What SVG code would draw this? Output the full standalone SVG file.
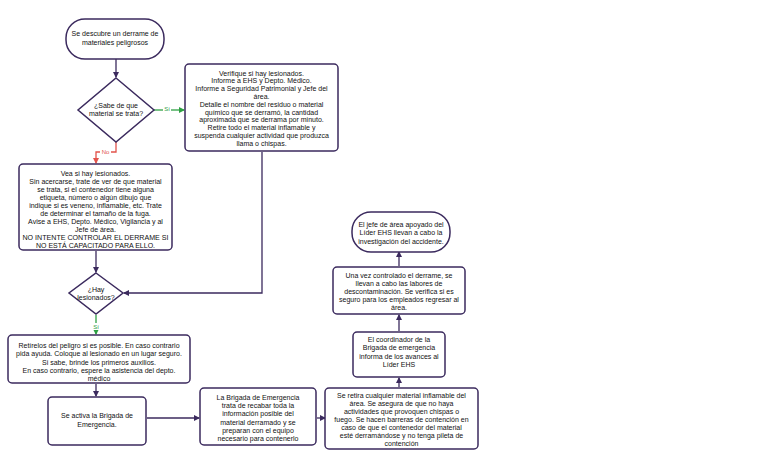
<svg xmlns="http://www.w3.org/2000/svg" width="768" height="452" viewBox="0 0 768 452">
<defs>
<style>
.n{fill:#fff;stroke:#3b2a5e;stroke-width:1.5}
.t{font-family:"Liberation Sans",Arial,sans-serif;font-size:7px;fill:#111;text-anchor:middle}
.c{fill:none;stroke:#3b2a5e;stroke-width:1.3}
.g{fill:none;stroke:#2ea043;stroke-width:1.3}
.r{fill:none;stroke:#e2534b;stroke-width:1.3}
.l{font-family:"Liberation Sans",Arial,sans-serif;font-size:6px;text-anchor:middle}
</style>
<marker id="a" markerWidth="6" markerHeight="6" refX="5" refY="3" orient="auto" markerUnits="userSpaceOnUse"><path d="M0,0 L6,3 L0,6 Z" fill="#3b2a5e"/></marker>
<marker id="ag" markerWidth="6" markerHeight="6" refX="5" refY="3" orient="auto" markerUnits="userSpaceOnUse"><path d="M0,0 L6,3 L0,6 Z" fill="#2ea043"/></marker>
<marker id="ar" markerWidth="6" markerHeight="6" refX="5" refY="3" orient="auto" markerUnits="userSpaceOnUse"><path d="M0,0 L6,3 L0,6 Z" fill="#e2534b"/></marker>
</defs>
<rect width="768" height="452" fill="#fff"/>
<g id="connectors">
<path class="c" d="M116,59 V77" marker-end="url(#a)"/>
<path class="g" d="M154,110 H184" marker-end="url(#ag)"/>
<rect x="163" y="106" width="8" height="7" fill="#fff"/>
<text class="l" x="167" y="111" fill="#2ea043">Sí</text>
<path class="r" d="M116,142 V152 H96 V163" marker-end="url(#ar)"/>
<rect x="100" y="148" width="11" height="7" fill="#fff"/>
<text class="l" x="105.5" y="154" fill="#e2534b">No</text>
<path class="c" d="M96,251 V272" marker-end="url(#a)"/>
<path class="c" d="M262,152 V293 H124" marker-end="url(#a)"/>
<path class="g" d="M96,315 V334" marker-end="url(#ag)"/>
<rect x="92" y="323" width="8" height="7" fill="#fff"/>
<text class="l" x="96" y="329" fill="#2ea043">Sí</text>
<path class="c" d="M96,384 V396" marker-end="url(#a)"/>
<path class="c" d="M147,418 H199" marker-end="url(#a)"/>
<path class="c" d="M317,418 H325" marker-end="url(#a)"/>
<path class="c" d="M399,387 V378" marker-end="url(#a)"/>
<path class="c" d="M399,331 V315" marker-end="url(#a)"/>
<path class="c" d="M399,266 V252" marker-end="url(#a)"/>
</g>
<g id="start">
<rect class="n" x="66" y="19" width="98" height="40" rx="19"/>
<text class="t" x="115" y="36">Se descubre un derrame de</text>
<text class="t" x="115" y="45">materiales peligrosos</text>
</g>
<g id="d1">
<path class="n" d="M116,78 L154,110 L116,142 L78,110 Z"/>
<text class="t" x="116" y="108">¿Sabe de que</text>
<text class="t" x="116" y="116">material se trata?</text>
</g>
<g id="verifique">
<rect class="n" x="185" y="64" width="153" height="87" rx="4"/>
<text class="t" x="261.5" y="75.5">Verifique si hay lesionados.</text>
<text class="t" x="261.5" y="83.3">Informe a EHS y Depto. Médico.</text>
<text class="t" x="261.5" y="91.1">Informe a Seguridad Patrimonial y Jefe del</text>
<text class="t" x="261.5" y="98.9">área.</text>
<text class="t" x="261.5" y="106.7">Detalle el nombre del residuo o material</text>
<text class="t" x="261.5" y="114.5">químico que se derramó, la cantidad</text>
<text class="t" x="261.5" y="122.3">aproximada que se derrama por minuto.</text>
<text class="t" x="261.5" y="130.1">Retire todo el material inflamable y</text>
<text class="t" x="261.5" y="137.9">suspenda cualquier actividad que produzca</text>
<text class="t" x="261.5" y="145.7">llama o chispas.</text>
</g>
<g id="vea">
<rect class="n" x="19" y="164" width="153" height="86" rx="4"/>
<text class="t" x="95.5" y="175.5">Vea si hay lesionados.</text>
<text class="t" x="95.5" y="183.5">Sin acercarse, trate de ver de que material</text>
<text class="t" x="95.5" y="191.5">se trata, si el contenedor tiene alguna</text>
<text class="t" x="95.5" y="199.5">etiqueta, número o algún dibujo que</text>
<text class="t" x="95.5" y="207.5">indique si es veneno, inflamable, etc. Trate</text>
<text class="t" x="95.5" y="215.5">de determinar el tamaño de la fuga.</text>
<text class="t" x="95.5" y="223.5">Avise a EHS, Depto. Médico, Vigilancia y al</text>
<text class="t" x="95.5" y="231.5">Jefe de área.</text>
<text class="t" x="95.5" y="239.5" textLength="146" lengthAdjust="spacingAndGlyphs">NO INTENTE CONTROLAR EL DERRAME SI</text>
<text class="t" x="95.5" y="247.5">NO ESTÁ CAPACITADO PARA ELLO.</text>
</g>
<g id="d2">
<path class="n" d="M96,273 L123,293 L96,314 L69,293 Z"/>
<text class="t" x="96" y="292">¿Hay</text>
<text class="t" x="96" y="300">lesionados?</text>
</g>
<g id="retirelos">
<rect class="n" x="8" y="335" width="182" height="48" rx="4"/>
<text class="t" x="99" y="347.5">Retírelos del peligro si es posible. En caso contrario</text>
<text class="t" x="99" y="356">pida ayuda.  Coloque al lesionado en un lugar seguro.</text>
<text class="t" x="99" y="364.5">Si sabe, brinde los primeros auxilios.</text>
<text class="t" x="99" y="373">En caso contrario, espere la asistencia del depto.</text>
<text class="t" x="99" y="381">médico</text>
</g>
<g id="activa">
<rect class="n" x="48" y="397" width="98" height="48" rx="4"/>
<text class="t" x="97" y="418">Se activa la Brigada de</text>
<text class="t" x="97" y="426.5">Emergencia.</text>
</g>
<g id="brigada">
<rect class="n" x="200" y="388" width="116" height="57" rx="4"/>
<text class="t" x="258" y="400">La Brigada de Emergencia</text>
<text class="t" x="258" y="408.2">trata de recabar toda la</text>
<text class="t" x="258" y="416.4">información posible del</text>
<text class="t" x="258" y="424.6">material derramado y se</text>
<text class="t" x="258" y="432.8">preparan con el equipo</text>
<text class="t" x="258" y="441">necesario para contenerlo</text>
</g>
<g id="retira">
<rect class="n" x="325" y="388" width="153" height="61" rx="4"/>
<text class="t" x="401.5" y="398">Se retira cualquier material inflamable del</text>
<text class="t" x="401.5" y="406">área. Se asegura de que no haya</text>
<text class="t" x="401.5" y="414">actividades que provoquen chispas o</text>
<text class="t" x="401.5" y="422">fuego. Se hacen barreras de contención en</text>
<text class="t" x="401.5" y="430">caso de que el contenedor del material</text>
<text class="t" x="401.5" y="438">esté derramándose y no tenga pileta de</text>
<text class="t" x="401.5" y="446">contención</text>
</g>
<g id="coordinador">
<rect class="n" x="353" y="332" width="92" height="45" rx="4"/>
<text class="t" x="399" y="342">El coordinador de la</text>
<text class="t" x="399" y="350.3">Brigada de emergencia</text>
<text class="t" x="399" y="358.6">informa de los avances al</text>
<text class="t" x="399" y="366.9">Líder EHS</text>
</g>
<g id="controlado">
<rect class="n" x="333" y="267" width="132" height="47" rx="4"/>
<text class="t" x="399" y="278">Una vez controlado el derrame, se</text>
<text class="t" x="399" y="286">llevan a cabo las labores de</text>
<text class="t" x="399" y="294">descontaminación. Se verifica si es</text>
<text class="t" x="399" y="302">seguro para los empleados regresar al</text>
<text class="t" x="399" y="310">área.</text>
</g>
<g id="end">
<rect class="n" x="352" y="212" width="98" height="40" rx="19"/>
<text class="t" x="401" y="226.5">El jefe de área apoyado del</text>
<text class="t" x="401" y="235">Líder EHS llevan a cabo la</text>
<text class="t" x="401" y="243.5">investigación del accidente.</text>
</g>
</svg>
